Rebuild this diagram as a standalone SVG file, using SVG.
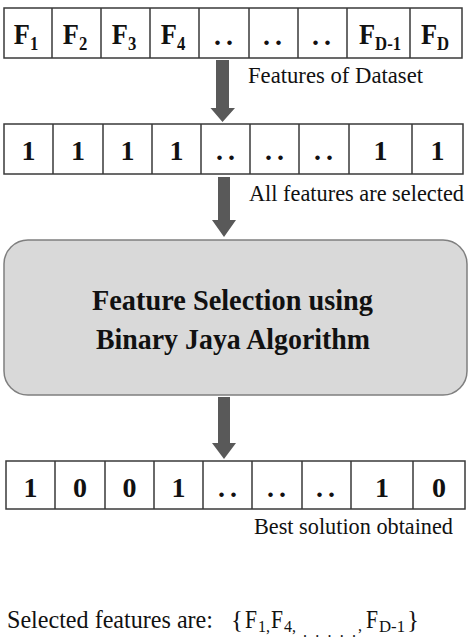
<svg xmlns="http://www.w3.org/2000/svg" width="474" height="640" viewBox="0 0 474 640">
<style>
.cell{fill:#fff;stroke:#3a3a3a;stroke-width:1.5}
.div{stroke:#3a3a3a;stroke-width:1.5}
.ct{font-family:"Liberation Serif","Times New Roman",serif;font-weight:bold;font-size:28px;fill:#111;text-anchor:middle}
.ft{font-family:"Liberation Serif","Times New Roman",serif;font-weight:bold;font-size:30px;fill:#111;text-anchor:middle}
.sub{font-size:19px}
.dots{font-family:"Liberation Serif","Times New Roman",serif;font-weight:bold;font-size:28px;fill:#111;text-anchor:middle;letter-spacing:5px}
.lbl{font-family:"Liberation Serif","Times New Roman",serif;font-size:23px;fill:#111}
.big{font-family:"Liberation Serif","Times New Roman",serif;font-weight:bold;font-size:30px;fill:#111;text-anchor:middle}
.sel{font-family:"Liberation Serif","Times New Roman",serif;font-size:25px;fill:#111}
.ssub{font-family:"Liberation Serif","Times New Roman",serif;font-size:16px;fill:#111}
.arrow{fill:#595959}
</style>

<g id="features-row">
<rect class="cell" x="4" y="8" width="458" height="50"/>
<path class="div" d="M52 8V58M101 8V58M150 8V58M199 8V58M249 8V58M298 8V58M347 8V58M410 8V58"/>
<text class="ft" transform="translate(26,44) scale(0.88,1)">F<tspan class="sub" dy="6">1</tspan></text>
<text class="ft" transform="translate(75,44) scale(0.88,1)">F<tspan class="sub" dy="6">2</tspan></text>
<text class="ft" transform="translate(124,44) scale(0.88,1)">F<tspan class="sub" dy="6">3</tspan></text>
<text class="ft" transform="translate(173,44) scale(0.88,1)">F<tspan class="sub" dy="6">4</tspan></text>
<text class="dots" x="226" y="45">..</text>
<text class="dots" x="275" y="45">..</text>
<text class="dots" x="324" y="45">..</text>
<text class="ft" transform="translate(380,44) scale(0.88,1)">F<tspan class="sub" dy="6">D-1</tspan></text>
<text class="ft" transform="translate(435,44) scale(0.88,1)">F<tspan class="sub" dy="6">D</tspan></text>
</g>
<text id="label-features" class="lbl" x="248" y="83" textLength="175" lengthAdjust="spacingAndGlyphs">Features of Dataset</text>

<g id="all-selected-row">
<rect class="cell" x="4" y="124" width="459" height="50"/>
<path class="div" d="M53 124V174M103 124V174M152 124V174M201 124V174M250 124V174M299 124V174M349 124V174M412 124V174"/>
<text class="ct" x="28.5" y="160">1</text>
<text class="ct" x="78" y="160">1</text>
<text class="ct" x="127.5" y="160">1</text>
<text class="ct" x="176.5" y="160">1</text>
<text class="dots" x="228" y="160">..</text>
<text class="dots" x="277" y="160">..</text>
<text class="dots" x="326" y="160">..</text>
<text class="ct" x="380.5" y="160">1</text>
<text class="ct" x="437.5" y="160">1</text>
</g>
<text id="label-all" class="lbl" x="249" y="201" textLength="215" lengthAdjust="spacingAndGlyphs">All features are selected</text>

<g id="jaya-box">
<rect x="4" y="240" width="463" height="155" rx="24" ry="24" fill="#d9d9d9" stroke="#7f7f7f" stroke-width="1.5"/>
<text class="big" x="232.5" y="310" textLength="281" lengthAdjust="spacingAndGlyphs">Feature Selection using</text>
<text class="big" x="233" y="349" textLength="274" lengthAdjust="spacingAndGlyphs">Binary Jaya Algorithm</text>
</g>

<g id="best-row">
<rect class="cell" x="6" y="461" width="459" height="48"/>
<path class="div" d="M55 461V509M105 461V509M154 461V509M203 461V509M252 461V509M302 461V509M351 461V509M413 461V509"/>
<text class="ct" x="30.5" y="497">1</text>
<text class="ct" x="80" y="497">0</text>
<text class="ct" x="129.5" y="497">0</text>
<text class="ct" x="178.5" y="497">1</text>
<text class="dots" x="230" y="497">..</text>
<text class="dots" x="279" y="497">..</text>
<text class="dots" x="328" y="497">..</text>
<text class="ct" x="382" y="497">1</text>
<text class="ct" x="439" y="497">0</text>
</g>
<text id="label-best" class="lbl" x="254" y="534" textLength="199" lengthAdjust="spacingAndGlyphs">Best solution obtained</text>

<g id="selected-features">
<text class="sel" x="7" y="628" textLength="206" lengthAdjust="spacingAndGlyphs">Selected features are:</text>
<text class="sel" x="231" y="628">{</text>
<text class="sel" x="245" y="628" textLength="12" lengthAdjust="spacingAndGlyphs">F</text>
<text class="ssub" x="258" y="632">1,</text>
<text class="sel" x="271" y="628" textLength="12" lengthAdjust="spacingAndGlyphs">F</text>
<text class="ssub" x="284" y="632">4,</text>
<text class="ssub" x="303" y="637" textLength="53" lengthAdjust="spacing">. . . . .</text>
<text class="ssub" x="358" y="631">,</text>
<text class="sel" x="366" y="628" textLength="12" lengthAdjust="spacingAndGlyphs">F</text>
<text class="ssub" x="379" y="632" textLength="26" lengthAdjust="spacingAndGlyphs">D-1</text>
<text class="sel" x="407" y="628">}</text>
</g>

<g id="connectors">
<path class="arrow" d="M216 60H229V108H235L222.5 122L210.5 108H216Z"/>
<path class="arrow" d="M218 177H230V220H236L224 237L212 220H218Z"/>
<path class="arrow" d="M218 397H230V443H236L224 459L212 443H218Z"/>
</g>
</svg>
